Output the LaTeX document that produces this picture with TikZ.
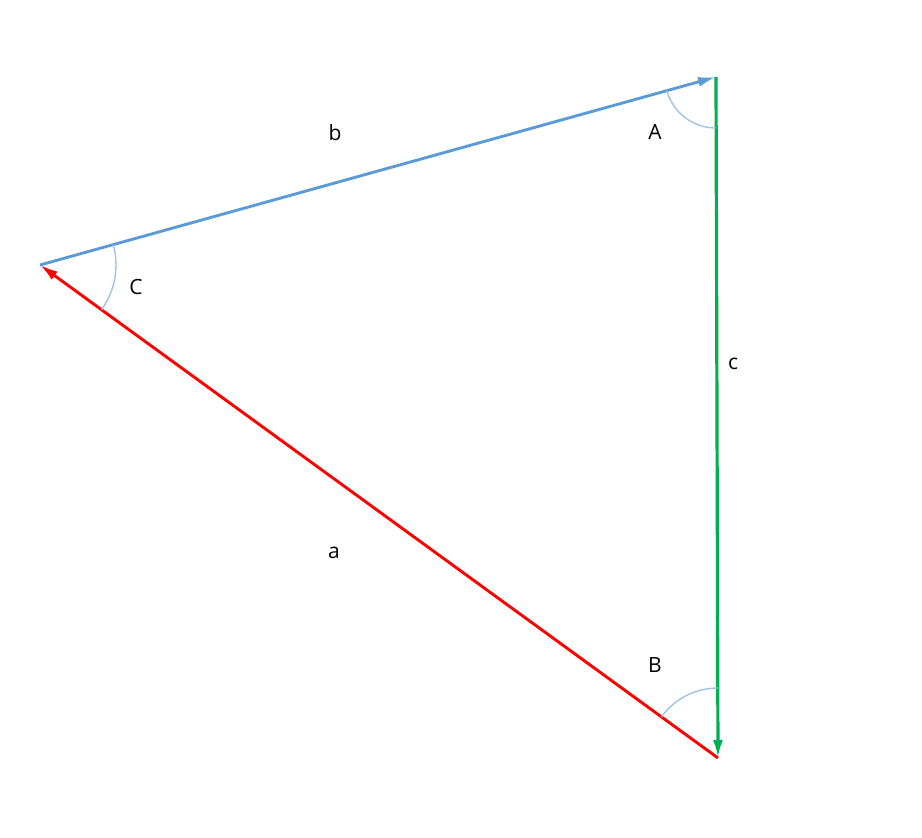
\documentclass[tikz,border=0pt]{standalone}
\usepackage{fontspec}
\setmainfont{Open Sans}
\usetikzlibrary{arrows.meta,angles}
\definecolor{vblue}{HTML}{5B9BD5}
\definecolor{vgreen}{HTML}{00B050}
\definecolor{vred}{HTML}{FF0000}
\definecolor{arccol}{HTML}{9DC3E6}
\tikzset{
  vec/.style={line width=2.9pt, -{Latex[length=18pt,width=10pt]}},
  ang/.style={draw=arccol, line width=1.4pt},
  lbl/.style={font=\fontsize{21}{25}\selectfont, text=black, inner sep=0pt}
}
\begin{document}
\begin{tikzpicture}[x=1pt,y=1pt]
\useasboundingbox (0,0) rectangle (922,838);
\coordinate (A) at (716,761);
\coordinate (C) at (40,573);
\coordinate (B) at (718,80);
\draw[vec, vblue] (C) -- (A);
\draw[vec, vgreen, line width=3.2pt] (A) -- (B);
\draw[vec, vred] (B) -- (C);
\pic[ang, angle radius=51pt] {angle = C--A--B};
\pic[ang, angle radius=76pt] {angle = B--C--A};
\pic[ang, angle radius=70pt] {angle = A--B--C};
\node[lbl] (lA) at (655,706) {A};
\node[lbl] (lb) at (335,705) {b};
\node[lbl] (lC) at (136,551) {C};
\node[lbl] (lc) at (733,474) {c};
\node[lbl] (la) at (334,285) {a};
\node[lbl] (lB) at (655,173) {B};
\end{tikzpicture}
\end{document}
